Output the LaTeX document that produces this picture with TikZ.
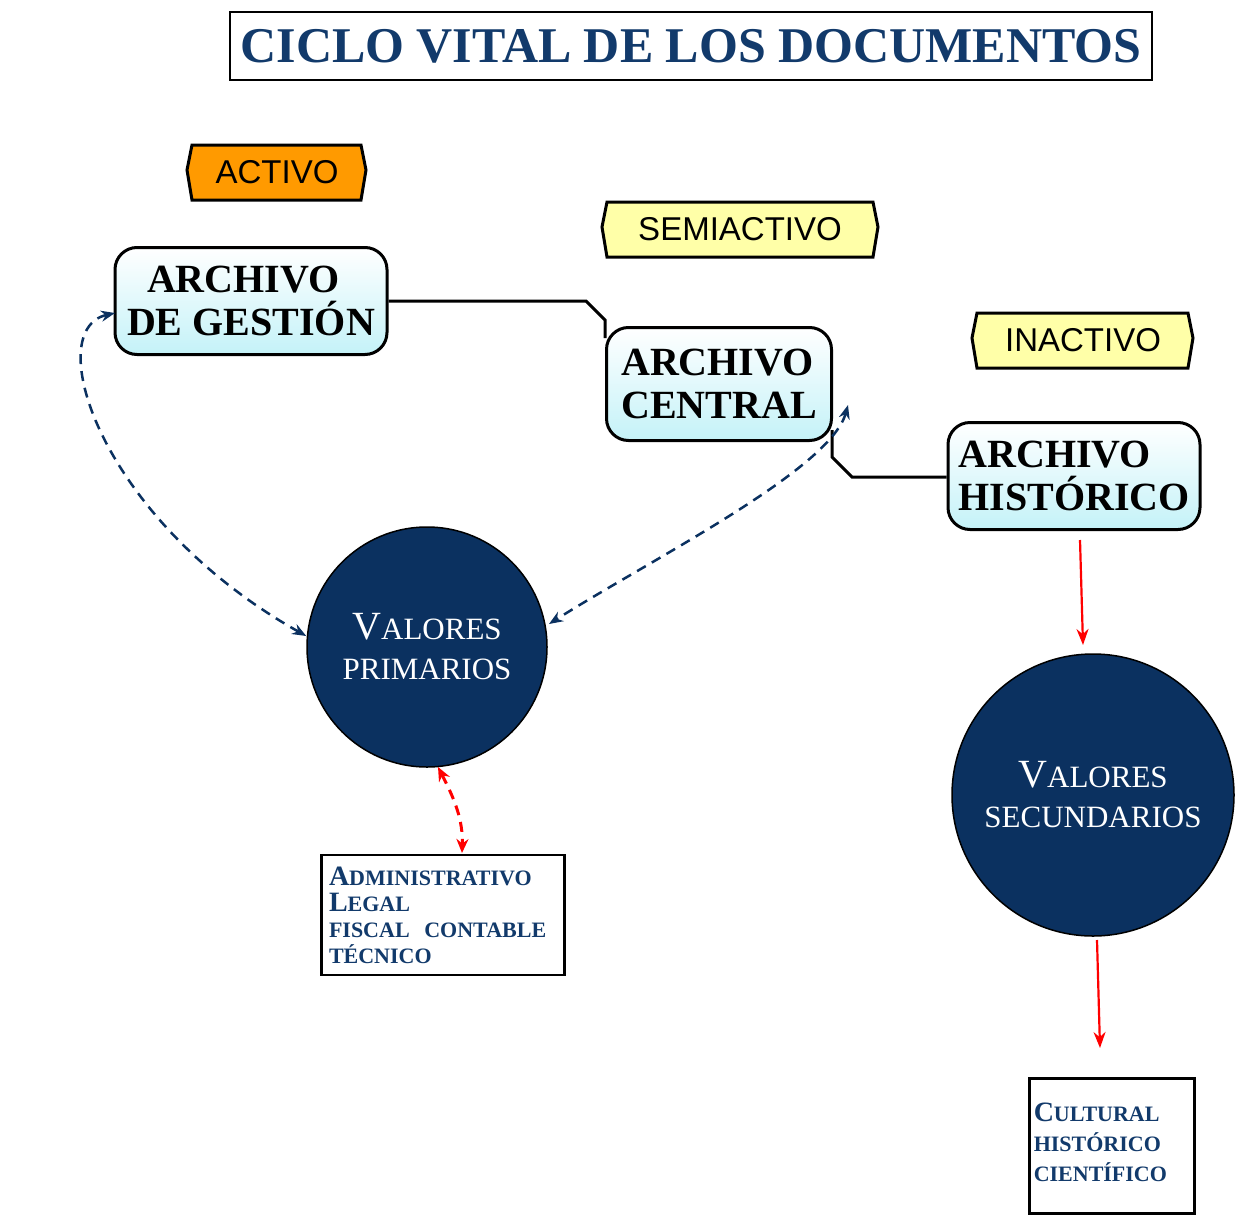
\documentclass[tikz,border=0pt]{standalone}
\usepackage{fontspec}
\setmainfont{Liberation Serif}
\setsansfont{Liberation Sans}
\usetikzlibrary{arrows.meta}
\definecolor{navy}{HTML}{0B3160}
\definecolor{tnavy}{HTML}{123A6B}
\definecolor{orng}{HTML}{FF9A00}
\definecolor{lyel}{HTML}{FFFFA8}
\definecolor{lcyan}{HTML}{C4F2F8}
\newcommand{\bigsc}[2]{{\fontsize{40}{40}\selectfont #1}{\fontsize{31}{40}\selectfont #2}}
\newcommand{\smsc}[2]{{\fontsize{28}{26}\selectfont #1}{\fontsize{22}{26}\selectfont #2}}
\tikzset{
 arch/.style={draw=black,line width=3pt,rounded corners=22pt,top color=white,bottom color=lcyan,align=left,font=\fontsize{40}{43}\selectfont\bfseries,inner sep=0},
 circ/.style={circle,fill=navy,draw=black,line width=1.5pt,text=white,align=center,font=\fontsize{31}{40}\selectfont},
 sbox/.style={draw=black,line width=2.5pt,fill=white,align=left,text=tnavy,font=\fontsize{22}{26}\selectfont\bfseries,inner sep=0},
 lbl/.style={font=\sffamily\fontsize{33}{35}\selectfont},
 conn/.style={line width=3pt},
 bdash/.style={navy,line width=2.5pt,dash pattern=on 10pt off 7pt,{Stealth[length=14pt,width=11pt]}-{Stealth[length=14pt,width=11pt]}},
 rarr/.style={red,line width=2.2pt,-{Stealth[length=16pt,width=12pt]}}
}
\newcommand{\tag}[5]{% x1 y1 x2 y2 color
 \fill[#5] (#1,#2) -- (#3,#2) -- (#3+5,#2+25) -- (#3,#4) -- (#1,#4) -- (#1-5,#2+25) -- cycle;
 \draw[line width=3pt] (#1,#2) -- (#3,#2) -- (#3+5,#2+25) -- (#3,#4) -- (#1,#4) -- (#1-5,#2+25) -- cycle;}
\begin{document}
\begin{tikzpicture}[x=1pt,y=-1pt]
\useasboundingbox (0,0) rectangle (1244,1223);
\node[draw,line width=2.5pt,minimum width=922pt,minimum height=68pt,text=tnavy,font=\fontsize{50}{54}\selectfont\bfseries] (title) at (691,46) {CICLO VITAL DE LOS DOCUMENTOS};
\tag{192}{145}{361}{200}{orng}
\node[lbl] (act) at (277,172) {ACTIVO};
\tag{607}{202}{873}{257}{lyel}
\node[lbl] (semi) at (740,229) {SEMIACTIVO};
\tag{977}{313}{1188}{368}{lyel}
\node[lbl] (inac) at (1083,340) {INACTIVO};
\node[arch,minimum width=272pt,minimum height=107pt] (ag) at (251,301) {\ \ ARCHIVO\\DE GESTIÓN};
\node[arch,minimum width=225pt,minimum height=113pt] (ac) at (719,384) {ARCHIVO\\CENTRAL};
\node[arch,minimum width=252pt,minimum height=107pt] (ah) at (1074,476) {ARCHIVO\\HISTÓRICO};
\node[circ,minimum size=240pt] (vp) at (427,647) {\bigsc{V}{ALORES}\\\bigsc{}{PRIMARIOS}};
\node[circ,minimum size=282pt] (vs) at (1093,795) {\bigsc{V}{ALORES}\\\bigsc{}{SECUNDARIOS}};
\node[sbox,minimum width=243pt,minimum height=120pt,text width=228pt] (adm) at (443,915) {\smsc{A}{DMINISTRATIVO}\\\smsc{L}{EGAL}\\\smsc{}{FISCAL\ \ CONTABLE}\\\smsc{}{TÉCNICO}\\[6pt]};
\node[sbox,minimum width=165pt,minimum height=135pt,text width=156pt,anchor=north west] (cul) at (1028,1077) {\\[-14pt]\smsc{C}{ULTURAL}\\[4pt]\smsc{}{HISTÓRICO}\\[4pt]\smsc{}{CIENTÍFICO}};
% connectors
\draw[conn] (ag.east |- 0,301) -- (586,301) -- (605,320) -- (605,338);
\draw[conn] (832,430) -- (832,457) -- (852,477) -- (ah.west |- 0,477);
\draw[bdash] (115,313) .. controls (40,330) and (100,520) .. (vp.west |- 0,636);
\draw[bdash] (848,405) .. controls (830,470) and (650,560) .. (549,624);
\draw[red,line width=3pt,dash pattern=on 10pt off 7pt,{Stealth[length=14pt,width=12pt]}-{Stealth[length=14pt,width=12pt]}] (438,767) .. controls (455,800) and (463,820) .. (462,853);
\draw[rarr] (1080,540) -- (1083,645);
\draw[rarr] (1097,940) -- (1100,1048);
\end{tikzpicture}
\end{document}
